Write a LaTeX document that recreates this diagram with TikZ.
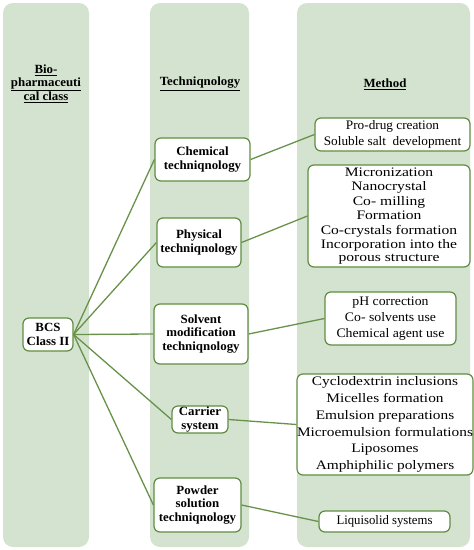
\documentclass[tikz,border=0pt]{standalone}
\usepackage{fontspec}
\setmainfont{Liberation Serif}
\newfontfamily\hdfont[FakeStretch=1.03]{Liberation Serif}
\newfontfamily\mfA[FakeStretch=1.02]{Liberation Serif}
\newfontfamily\mfB[FakeStretch=1.2]{Liberation Serif}
\newfontfamily\mfS[FakeStretch=1.06]{Liberation Serif}
\newfontfamily\mfC[FakeStretch=1.18]{Liberation Serif}
\newfontfamily\mfD[FakeStretch=0.98]{Liberation Serif}
\definecolor{colbg}{RGB}{212,227,207}
\definecolor{boxline}{RGB}{96,140,66}
\definecolor{conn}{RGB}{104,146,74}
\tikzset{
  colbox/.style={fill=colbg, rounded corners=10pt},
  hdtext/.style={align=center, inner sep=0pt, font=\hdfont\bfseries\fontsize{12.5}{12.5}\selectfont},
  tbox/.style={draw=boxline, fill=white, rounded corners=6pt, line width=1.2pt, align=center, inner sep=0pt,
    font=\hdfont\bfseries\fontsize{12.5}{13.5}\selectfont},
  mbox/.style={draw=boxline, fill=white, rounded corners=6pt, line width=1.2pt, align=center, inner sep=0pt},
  link/.style={draw=conn, line width=1.3pt}
}
\begin{document}
\begin{tikzpicture}[x=1pt,y=-1pt]
\useasboundingbox (0,0) rectangle (474,550);
% columns
\path[colbox] (3,3) rectangle (89,547);
\path[colbox] (150,3) rectangle (249,547);
\path[colbox] (297,3) rectangle (470,547);
% headers
\node[hdtext] (h1) at (46,84) {\underline{Bio-}\\\underline{pharmaceuti}\\\underline{cal class}};
\node[hdtext] (h2) at (200,84) {\underline{Techniqnology}};
\node[hdtext] (h3) at (385,84) {\underline{Method}};
% BCS
\node[tbox, minimum width=50pt, minimum height=33pt] (bcs) at (48,334.5) {BCS\\Class II};
% technology column
\node[tbox, minimum width=95pt, minimum height=43pt] (chem) at (202.5,159.5) {Chemical\\techniqnology};
\node[tbox, minimum width=84pt, minimum height=49pt] (phys) at (199,242.5) {Physical\\techniqnology};
\node[tbox, minimum width=94pt, minimum height=60pt] (solv) at (201,334) {Solvent\\modification\\techniqnology};
\node[tbox, minimum width=56pt, minimum height=27pt] (carr) at (200,419.5) {Carrier\\system};
\node[tbox, minimum width=87pt, minimum height=54pt] (powd) at (197.5,505) {Powder\\solution\\techniqnology};
% method column
\node[mbox, minimum width=155pt, minimum height=33pt, font=\mfA\fontsize{13}{16}\selectfont] (prod) at (392.5,134.5)
  {Pro-drug creation\\Soluble salt\ \ development};
\node[mbox, minimum width=162pt, minimum height=102pt, font=\mfB\fontsize{13}{14.5}\selectfont] (physm) at (389,216)
  {Micronization\\Nanocrystal\\Co- milling\\Formation\\Co-crystals formation\\Incorporation into the\\[-2pt]porous structure};
\node[mbox, minimum width=131pt, minimum height=53pt, font=\mfS\fontsize{13}{16}\selectfont] (solvm) at (390.5,318.5)
  {pH correction\\Co- solvents use\\Chemical agent use};
\node[mbox, minimum width=170pt, minimum height=101pt, font=\mfC\fontsize{13}{16.8}\selectfont] (carrm) at (385,424.5)
  {Cyclodextrin inclusions\\Micelles formation\\Emulsion preparations\\Microemulsion formulations\\Liposomes\\Amphiphilic polymers};
\node[mbox, minimum width=131pt, minimum height=21pt, font=\mfD\fontsize{13}{13}\selectfont] (liq) at (384.5,521.5)
  {Liquisolid systems};
% connectors
\foreach \t in {chem,phys,solv,carr,powd}{\draw[link] (bcs.east) -- (\t.west);}
\draw[link] (chem.east) -- (prod.west);
\draw[link] (phys.east) -- (physm.west);
\draw[link] (solv.east) -- (solvm.west);
\draw[link] (carr.east) -- (carrm.west);
\draw[link] (powd.east) -- (liq.west);
\end{tikzpicture}
\end{document}
